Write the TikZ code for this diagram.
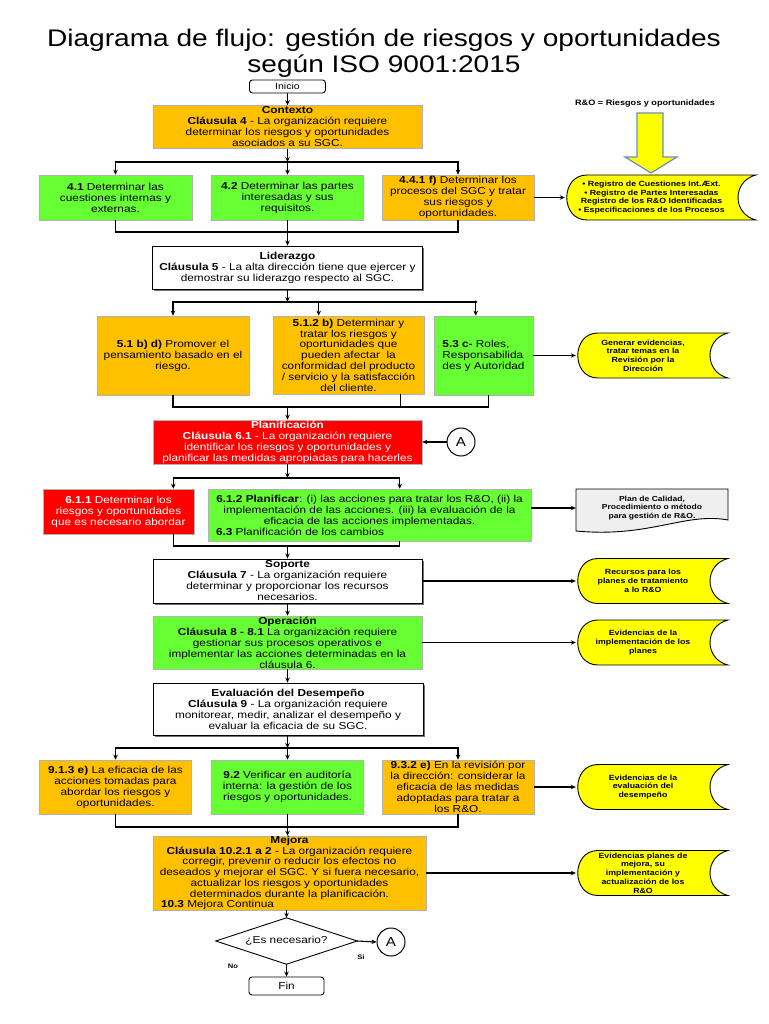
\documentclass[tikz,border=0pt]{standalone}
\usepackage{fontspec}
\setmainfont{Liberation Sans}[FakeStretch=1.17]
\usetikzlibrary{arrows.meta,shapes.geometric,shadows,calc}
\definecolor{orng}{HTML}{FFC000}
\definecolor{grn}{HTML}{66FF33}
\definecolor{rd}{HTML}{FF0000}
\definecolor{ylw}{HTML}{FFFF00}
\definecolor{docgray}{HTML}{EFEFEF}
\definecolor{arrblue}{HTML}{6C8EBF}
\newcommand{\sdata}[6]{%
  \draw[ydat] ({#2+22},#3) -- (#4,#3) .. controls ({#4-24},{#3+6}) and ({#4-24},{#5-6}) .. (#4,#5) -- ({#2+22},#5) .. controls ({#2-5},#5) and ({#2-5},#3) .. cycle;
  \node[sdtext, minimum width={#4pt-#2pt-18pt}, minimum height={#5pt-#3pt}] (#1) at ({(#2+#4-18)/2},{(#3+#5)/2}) {#6};
}
\begin{document}
\begin{tikzpicture}[x=1pt,y=-1pt,
 txt/.style={font=\fontsize{10.1}{11}\selectfont, align=center, inner sep=0pt},
 sz/.style 2 args={minimum width=#1pt, minimum height=#2pt},
 obox/.style={txt, fill=orng, draw=black!30, line width=0.6pt},
 gbox/.style={txt, fill=grn, draw=black!30, line width=0.6pt},
 rbox/.style={txt, fill=rd, draw=black!30, line width=0.6pt, text=white},
 wbox/.style={txt, fill=white, draw=black, line width=0.9pt, drop shadow={shadow xshift=1.5pt, shadow yshift=-1.5pt, fill=black!55, opacity=1}},
 ln/.style={line width=1.1pt, draw=black},
 arr/.style={ln, -{Stealth[length=5pt,width=4.5pt]}},
 ydat/.style={fill=ylw, draw=black, line width=0.9pt},
 sdtext/.style={font=\bfseries\fontsize{7.5}{8.7}\selectfont, align=center, inner sep=0pt},
 term/.style={txt, draw=black, line width=0.9pt, rounded corners=3pt, fill=white},
 conn/.style={circle, draw=black, line width=1pt, minimum size=28pt, inner sep=0pt, font=\fontsize{13}{13}\selectfont, fill=white},
 ttl/.style={font=\fontsize{24}{26}\selectfont, inner sep=0pt},
]
\useasboundingbox[fill=white] (0,0) rectangle (768,1024);

% title
\node[ttl] (t1) at (384,40) {Diagrama de flujo: gestión de riesgos y oportunidades};
\node[ttl] (t2) at (384,66) {según ISO 9001:2015};

% main column
\node[term, sz={76}{13}, font=\fontsize{9}{9}\selectfont] (ini) at (287.5,86.5) {Inicio};
\node[obox, sz={269}{43}] (ctx) at (287.5,127) {\textbf{Contexto}\\\textbf{Cláusula 4} - La organización requiere\\determinar los riesgos y oportunidades\\asociados a su SGC.};
\node[gbox, sz={153}{45}] (b41) at (115.5,197.5) {\textbf{4.1} Determinar las\\cuestiones internas y\\externas.};
\node[gbox, sz={152}{45}] (b42) at (287.5,197.5) {\textbf{4.2} Determinar las partes\\interesadas y sus\\requisitos.};
\node[obox, sz={152}{45}] (b441) at (458,197.5) {\textbf{4.4.1 f)} Determinar los\\procesos del SGC y tratar\\sus riesgos y\\oportunidades.};
\node[wbox, sz={270}{43}] (lid) at (287.5,267.5) {\textbf{Liderazgo}\\\textbf{Cláusula 5} - La alta dirección tiene que ejercer y\\demostrar su liderazgo respecto al SGC.};
\node[obox, sz={152}{79}] (b51) at (173,355.5) {\textbf{5.1 b) d)} Promover el\\pensamiento basado en el\\riesgo.};
\node[obox, sz={151}{78}, font=\fontsize{10.1}{10.8}\selectfont] (b512) at (348.5,355) {\textbf{5.1.2 b)} Determinar y\\tratar los riesgos y\\oportunidades que\\pueden afectar~ la\\conformidad del producto\\/ servicio y la satisfacción\\del cliente.};
\node[gbox, sz={99}{79}, align=left] (b53) at (483.5,355.5) {\textbf{5.3 c-} Roles,\\Responsabilida\\des y Autoridad};
\node[rbox, sz={269}{44}] (plan) at (287.5,442) {\textbf{Planificación}\\\textbf{Cláusula 6.1} - La organización requiere\\identificar los riesgos y oportunidades y\\planificar las medidas apropiadas para hacerles};
\node[conn] (A1) at (461,442) {A};
\node[rbox, sz={151}{45}] (b611) at (118.5,511.5) {\textbf{6.1.1} Determinar los\\riesgos y oportunidades\\que es necesario abordar};
\node[gbox, sz={323}{52}] (b612) at (369.5,515) {\textbf{6.1.2 Planificar}: (i) las acciones para tratar los R\&O, (ii) la\\implementación de las acciones. (iii) la evaluación de la\\eficacia de las acciones implementadas.\\\makebox[307pt][l]{\textbf{6.3} Planificación de los cambios}};
\node[wbox, sz={269}{44}] (sop) at (287.5,581) {\textbf{Soporte}\\\textbf{Cláusula 7} - La organización requiere\\determinar y proporcionar los recursos\\necesarios.};
\node[gbox, sz={269}{53}] (ope) at (287.5,642.5) {\textbf{Operación}\\\textbf{Cláusula 8 - 8.1} La organización requiere\\gestionar sus procesos operativos e\\implementar las acciones determinadas en la\\cláusula 6.};
\node[wbox, sz={270}{52}] (eva) at (288,709) {\textbf{Evaluación del Desempeño}\\\textbf{Cláusula 9} - La organización requiere\\monitorear, medir, analizar el desempeño y\\evaluar la eficacia de su SGC.};
\node[obox, sz={152}{54}] (b913) at (115.5,787) {\textbf{9.1.3 e)} La eficacia de las\\acciones tomadas para\\abordar los riesgos y\\oportunidades.};
\node[gbox, sz={152}{54}] (b92) at (287.5,787) {\textbf{9.2} Verificar en auditoría\\interna: la gestión de los\\riesgos y oportunidades.};
\node[obox, sz={152}{54}] (b932) at (458,787) {\textbf{9.3.2 e)} En la revisión por\\la dirección: considerar la\\eficacia de las medidas\\adoptadas para tratar a\\los R\&O.};
\node[obox, sz={273}{74}, font=\fontsize{10.1}{10.7}\selectfont] (mej) at (289.5,873) {\textbf{Mejora}\\\textbf{Cláusula 10.2.1 a 2} - La organización requiere\\corregir, prevenir o reducir los efectos no\\deseados y mejorar el SGC. Y si fuera necesario,\\actualizar los riesgos y oportunidades\\determinados durante la planificación.\\\makebox[257pt][l]{\textbf{10.3} Mejora Continua}};
\node[txt, sz={141}{46}] (dia) at (286.5,941) {¿Es necesario?};
\draw[line width=0.9pt] (dia.north) -- (dia.east) -- (dia.south) -- (dia.west) -- cycle;
\node[conn] (A2) at (391,942) {A};
\node[term, sz={75}{18}] (fin) at (286.5,986) {Fin};
\node[font=\bfseries\fontsize{6.5}{7}\selectfont] (si) at (361,957) {Si};
\node[font=\bfseries\fontsize{6.5}{7}\selectfont] (no) at (233,966) {No};

% right column
\node[font=\bfseries\fontsize{7.8}{8}\selectfont, inner sep=0pt] (ro) at (645,104) {R\&O = Riesgos y oportunidades};
\draw[fill=ylw, draw=arrblue, line width=1.2pt] (637,113) -- (663,113) -- (663,157) -- (677,157) -- (651,173) -- (625,157) -- (637,157) -- cycle;
\sdata{s1}{565}{175}{756}{220}{• Registro de Cuestiones Int.Æxt.\\• Registro de Partes Interesadas\\Registro de los R\&O Identificadas\\• Especificaciones de los Procesos}
\sdata{s2}{576}{333}{728}{378}{Generar evidencias,\\tratar temas en la\\Revisión por la\\Dirección}
\draw[fill=docgray, draw=black, line width=0.9pt] (576,489) -- (728,489) -- (728,520) .. controls (685,512) and (650,538) .. (576,531) -- cycle;
\node[sdtext, font=\bfseries\fontsize{7.3}{8.7}\selectfont, minimum width=152pt, minimum height=40pt] (doc) at (652,508) {Plan de Calidad,\\Procedimiento o método\\para gestión de R\&O.};
\sdata{s4}{576}{558.5}{728}{603.5}{Recursos para los\\planes de tratamiento\\a lo R\&O}
\sdata{s5}{576}{620}{728}{665}{Evidencias de la\\implementación de los\\planes}
\sdata{s6}{576}{764.5}{728}{809.5}{Evidencias de la\\evaluación del\\desempeño}
\sdata{s7}{576}{850.5}{728}{895.5}{Evidencias planes de\\mejora, su\\implementación y\\actualización de los\\R\&O}

% junctions
\coordinate (j1) at (287.5,162);
\coordinate (j2) at (287.5,232);
\coordinate (j3) at (287.5,302);
\coordinate (j4) at (287.5,407);
\coordinate (j5) at (287.5,478);
\coordinate (j6) at (287.5,546);
\coordinate (j7) at (287.5,748);
\coordinate (j8) at (287.5,827);

% connectors
\draw[arr] (ini.south) -- (ctx.north);
\draw[arr] (ctx.south) -- (j1);
\draw[arr] (j1) -| (b41.north);
\draw[arr] (j1) -- (b42.north);
\draw[arr] (j1) -| (b441.north);
\draw[ln] (b41.south) |- (j2) -| (b441.south);
\draw[arr] (b42.south) -- (lid.north);
\draw[arr] (b441.east) -- (s1.west);

\draw[arr] (lid.south) -- (j3);
\draw[arr] (j3) -| (b51.north);
\draw[arr] (j3) -| ([xshift=46pt]b512.north west);
\draw[arr] (j3) -| ([xshift=42pt]b53.north west);
\fill ([xshift=42pt]b53.north west |- j3) circle (1.6pt);
\draw[ln] (b51.south) |- (j4) -| ([xshift=55pt]b53.south west);
\draw[ln] ([xshift=128pt]b512.south west) -- ([xshift=128pt]b512.south west |- j4);
\draw[arr] (j4) -- (plan.north);
\draw[arr] (b53.east) -- (s2.west);

\draw[arr] (A1.west) -- (plan.east);
\draw[arr] (plan.south) -- (j5);
\draw[arr] (j5) -| ([xshift=-21pt]b611.north east);
\draw[arr] (j5) -| ([xshift=192pt]b612.north west);
\draw[ln] ([xshift=-21pt]b611.south east) |- (j6) -| ([xshift=192pt]b612.south west);
\draw[arr] (j6) -- (sop.north);
\draw[arr] (doc.west -| b612.east) -- (doc.west);

\draw[arr] (sop.east) -- (s4.west);
\draw[arr] (sop.south) -- (ope.north);
\draw[arr] (ope.east) -- (s5.west);
\draw[arr] (ope.south) -- (eva.north -| ope.south);

\draw[arr] (eva.south -| j7) -- (j7);
\draw[arr] (j7) -| (b913.north);
\draw[arr] (j7) -- (b92.north);
\draw[arr] (j7) -| (b932.north);
\draw[ln] (b913.south) |- (j8) -| (b932.south);
\draw[arr] (b92.south) -- (mej.north -| b92.south);
\draw[arr] (b932.east) -- (s6.west);
\draw[arr] (mej.east) -- (s7.west);

\draw[arr] (mej.south -| dia.north) -- (dia.north);
\draw[arr] (dia.east) -- (A2.west);
\draw[arr] (dia.south) -- (fin.north);
\end{tikzpicture}
\end{document}
